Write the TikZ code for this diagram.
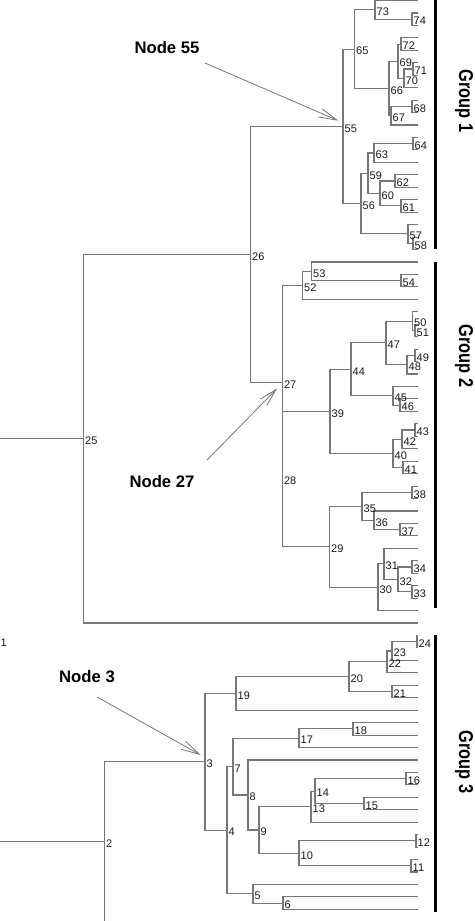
\documentclass[tikz,border=0pt]{standalone}
\usepackage{fontspec}
\setmainfont{Liberation Sans}
\usetikzlibrary{arrows.meta,calc}
\definecolor{treegray}{HTML}{777777}
\definecolor{labelblack}{HTML}{1A1A1A}
\tikzset{branch/.style={draw=treegray,line width=1.1pt},
 nodenum/.style={anchor=west,inner sep=0pt,text=labelblack,font=\fontsize{11}{11}\selectfont},
 callout/.style={font=\fontsize{16.7}{17}\selectfont\bfseries,text=black,inner sep=0pt},
 pointer/.style={draw=treegray,line width=.8pt,-{Straight Barb[length=18pt,width=9pt]}},
 groupbar/.style={draw=black,line width=3pt},
 grouplabel/.style={font=\fontsize{20}{20}\selectfont\bfseries,rotate=-90,xscale=.82,inner sep=0pt}}
% internal node: number, x of its vertical, upper child, lower child
\newcommand{\inode}[4]{%
 \path let \p1=(#3),\p2=(#4) in coordinate (n#1) at (#2pt,{0.5*\y1+0.5*\y2});
 \draw[branch] (n#1) |- (#3) (n#1) |- (#4);
 \node[nodenum] (t#1) at ([shift={(1.5,2)}]n#1) {#1};}

\begin{document}
\begin{tikzpicture}[x=1pt,y=-1pt]
 \clip (0,0) rectangle (474,921);
 \fill[white] (0,0) rectangle (474,921);
 % tips
 \foreach \i in {0,...,74}
  \coordinate (l\i) at (418,{0.5+12.45*\i});
 % group 1
 \inode{74}{412}{l1}{l2}
 \inode{73}{375}{l0}{n74}
 \inode{72}{401}{l3}{l4}
 \inode{71}{413}{l5}{l6}
 \inode{70}{404}{n71}{l7}
 \inode{69}{398}{n72}{n70}
 \inode{68}{412}{l8}{l9}
 \inode{67}{391}{n68}{l10}
 \inode{66}{389}{n69}{n67}
 \inode{65}{354.5}{n73}{n66}
 \inode{64}{413}{l11}{l12}
 \inode{63}{374}{n64}{l13}
 \inode{62}{395}{l14}{l15}
 \inode{61}{401}{l16}{l17}
 \inode{60}{380}{n62}{n61}
 \inode{59}{368}{n63}{n60}
 \inode{58}{413}{l19}{l20}
 \inode{57}{408}{l18}{n58}
 \inode{56}{361}{n59}{n57}
 \inode{55}{343}{n65}{n56}
 % group 2
 \inode{54}{401}{l22}{l23}
 \inode{53}{311.5}{l21}{n54}
 \inode{52}{302.5}{n53}{l24}
 \inode{51}{415}{l26}{l27}
 \inode{50}{412.5}{l25}{n51}
 \inode{49}{415}{l28}{l29}
 \inode{48}{407}{n49}{l30}
 \inode{47}{386}{n50}{n48}
 \inode{46}{400}{l32}{l33}
 \inode{45}{393}{l31}{n46}
 \inode{44}{351}{n47}{n45}
 \inode{43}{415}{l34}{l35}
 \inode{42}{402}{n43}{l36}
 \inode{41}{403}{l37}{l38}
 \inode{40}{393}{n42}{n41}
 \inode{39}{330}{n44}{n40}
 \inode{38}{412}{l39}{l40}
 \inode{37}{400}{l42}{l43}
 \inode{36}{374}{l41}{n37}
 \inode{35}{362}{n38}{n36}
 \inode{34}{412}{l45}{l46}
 \inode{33}{412}{l47}{l48}
 \inode{32}{398}{n34}{n33}
 \inode{31}{384}{l44}{n32}
 \inode{30}{378}{n31}{l49}
 \inode{29}{329.5}{n35}{n30}
 \inode{28}{282.3}{n39}{n29}
 \inode{27}{282.3}{n52}{n28}
 \inode{26}{250.5}{n55}{n27}
 \inode{25}{83.5}{n26}{l50}
 % group 3
 \inode{24}{417}{l51}{l52}
 \inode{23}{392}{n24}{l53}
 \inode{22}{387}{n23}{l54}
 \inode{21}{392}{l55}{l56}
 \inode{20}{349}{n22}{n21}
 \inode{19}{236}{n20}{l57}
 \inode{18}{353}{l58}{l59}
 \inode{17}{299}{n18}{l60}
 \inode{16}{406}{l62}{l63}
 \inode{15}{364}{l64}{l65}
 \inode{14}{315}{n16}{n15}
 \inode{13}{311}{n14}{l66}
 \inode{12}{416}{l67}{l68}
 \inode{11}{411}{l69}{l70}
 \inode{10}{299}{n12}{n11}
 \inode{9}{259}{n13}{n10}
 \inode{8}{248}{l61}{n9}
 \inode{7}{233}{n17}{n8}
 \inode{6}{283}{l72}{l73}
 \inode{5}{253}{l71}{n6}
 \inode{4}{227}{n7}{n5}
 \inode{3}{205}{n19}{n4}
 \inode{2}{104.5}{n3}{l74}
 \inode{1}{-1}{n25}{n2}
 % groups
 \draw[groupbar] (435,0) coordinate (g1a) -- (435,249) coordinate (g1b);
 \draw[groupbar] (435,262) coordinate (g2a) -- (435,608) coordinate (g2b);
 \draw[groupbar] (435,635) coordinate (g3a) -- (435,912) coordinate (g3b);
 \node[grouplabel] (grp1) at (464,101) {Group 1};
 \node[grouplabel] (grp2) at (464,356) {Group 2};
 \node[grouplabel] (grp3) at (464,762) {Group 3};
 % pointers
 \node[callout] (c55) at (167,48) {Node 55};
 \node[callout] (c27) at (162,482) {Node 27};
 \node[callout] (c3) at (87,677) {Node 3};
 \coordinate (s55) at (205,63);
 \coordinate (p55) at (338.3,120.7);
 \coordinate (s27) at (207,460);
 \coordinate (p27) at (277.3,388.3);
 \coordinate (s3) at (97,697);
 \coordinate (p3) at (200.7,755);
 \draw[pointer] (s55) -- (p55);
 \draw[pointer] (s27) -- (p27);
 \draw[pointer] (s3) -- (p3);
\end{tikzpicture}
\end{document}
